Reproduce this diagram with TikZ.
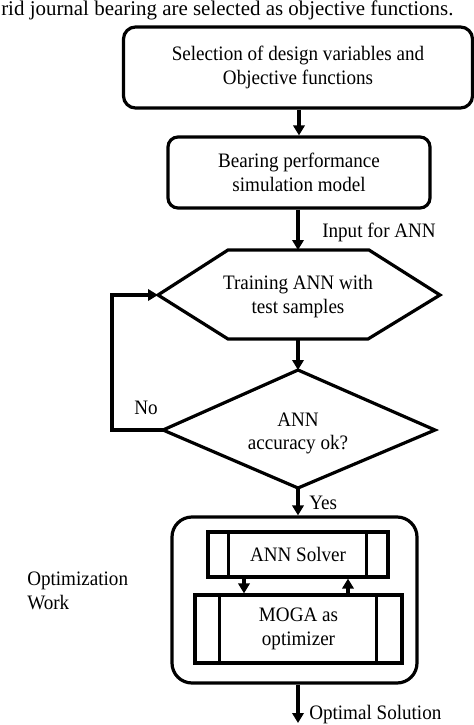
\documentclass[tikz,border=0pt]{standalone}
\usepackage{fontspec}
\setmainfont{Liberation Serif}
\newfontfamily\tallfont[FakeStretch=0.93]{Liberation Serif}
\usetikzlibrary{arrows.meta,calc}
\begin{document}
\begin{tikzpicture}[x=0.75pt,y=-0.75pt,
  lw/.style={line width=2.4pt},
  arr/.style={lw,-{Triangle[width=8.5pt,length=7.5pt]}},
  txt/.style={font=\tallfont\fontsize{15.4}{17.8}\selectfont,align=center,inner sep=0pt},
  lbl/.style={font=\tallfont\fontsize{15.4}{17.8}\selectfont,inner sep=0pt,anchor=west,align=left},
  rbox/.style={draw,lw,rounded corners=#1,txt},
  pbox/.style={draw,lw,txt}]
\useasboundingbox (0,0) rectangle (474,725);
\node[font=\fontsize{15.7}{18}\selectfont,inner sep=0pt,anchor=base west] (cap) at (1,15) {rid journal bearing are selected as objective functions.};
% box 1
\node[rbox=9pt,minimum width=261.75pt,minimum height=60.75pt] (b1) at (298,67.5) {Selection of design variables and\\Objective functions};
\node[rbox=7.5pt,minimum width=196.5pt,minimum height=53.25pt] (b2) at (299,172.5) {Bearing performance\\simulation model};
% hexagon
\coordinate (hT) at (298,250);
\coordinate (hL) at (158,295);
\coordinate (hB) at (298,339);
\draw[lw,line join=miter] (228,250) -- (369,250) -- (440,295) -- (368,339) -- (228,339) -- (hL) -- cycle;
\node[txt] (htext) at (298,296.5) {Training ANN with\\test samples};
% diamond
\coordinate (dT) at (298,370);
\coordinate (dL) at (163,430);
\coordinate (dB) at (298,488);
\draw[lw,line join=miter] (dT) -- (435,430) -- (dB) -- (dL) -- cycle;
\node[txt] (dtext) at (298,433.5) {ANN\\accuracy ok?};
% optimization box
\node[draw,lw,rounded corners=15pt,minimum width=183.75pt,minimum height=124.5pt] (opt) at (294.5,600) {};
\node[pbox,minimum width=135pt,minimum height=33.75pt] (ann) at (298,554.5) {ANN Solver};
\draw[lw] ([xshift=16.5pt]ann.north west) -- ([xshift=16.5pt]ann.south west);
\draw[lw] ([xshift=-17.25pt]ann.north east) -- ([xshift=-17.25pt]ann.south east);
\node[pbox,minimum width=155.25pt,minimum height=51pt] (moga) at (298.5,629) {MOGA as\\optimizer};
\draw[lw] ([xshift=19.5pt]moga.north west) -- ([xshift=19.5pt]moga.south west);
\draw[lw] ([xshift=-20.25pt]moga.north east) -- ([xshift=-20.25pt]moga.south east);
\coordinate (endp) at (298,723);
% connectors
\draw[arr] (b1.south -| b2.north) -- (b2.north);
\draw[arr] (b2.south -| hT) -- (hT);
\draw[arr] (hB) -- (dT);
\draw[arr] (dL) -- (112,430) -- (112,295) -- (hL);
\draw[arr] (dB) -- (dB |- opt.north);
\draw[arr] ([xshift=-40.5pt]ann.south) -- ([xshift=-40.5pt]ann.south |- moga.north);
\draw[arr] ([xshift=37.5pt]ann.south |- moga.north) -- ([xshift=37.5pt]ann.south);
\draw[arr] (endp |- opt.south) -- (endp);
% labels
\node[lbl] (linput) at (322,232) {Input for ANN};
\node[lbl] (lno) at (134,408) {No};
\node[lbl] (lyes) at (309,503) {Yes};
\node[lbl] (lopt) at (27,591) {Optimization\\Work};
\node[lbl] (lsol) at (309,715) {Optimal Solution};
\end{tikzpicture}
\end{document}
